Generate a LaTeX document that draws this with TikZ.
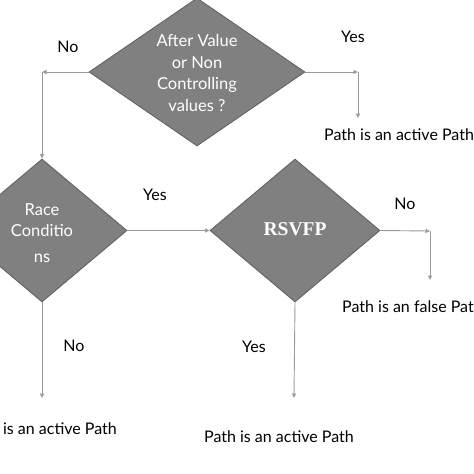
\documentclass[tikz,border=0pt]{standalone}
\usepackage{fontspec}
\setmainfont{Lato}
\newfontfamily\serifb{Liberation Serif}
\usetikzlibrary{shapes.geometric,arrows.meta}
\definecolor{dfill}{HTML}{808080}
\definecolor{dline}{HTML}{5E5E5E}
\definecolor{aline}{HTML}{9A9A9A}
\begin{document}
\begin{tikzpicture}[x=1pt,y=-1pt,
  dec/.style={diamond,fill=dfill,draw=dline,line width=0.8pt,inner sep=0pt},
  intext/.style={text=white,align=center,font=\fontsize{16.5}{21.7}\selectfont},
  lbl/.style={font=\fontsize{16}{19}\selectfont,inner sep=0pt},
  arr/.style={draw=aline,line width=0.9pt,-{Triangle[length=4.5pt,width=4pt]}}]
\useasboundingbox (0,0) rectangle (474,474);
% diamonds
\node[dec,minimum width=216pt,minimum height=148pt] (top) at (197,72) {};
\node[intext] (toptxt) at (197,73) {After Value\\or Non\\Controlling\\values ?};
\node[dec,minimum width=170pt,minimum height=143pt] (race) at (42,230.5) {};
\node[intext] (racetxt) at (42,233) {Race\\Conditio\\[4pt]ns};
\node[dec,minimum width=170pt,minimum height=143pt] (rs) at (295,230.5) {};
\node[text=white,font=\serifb\bfseries\fontsize{19.5}{22}\selectfont] (rstxt) at (295,229) {RSVFP};
% end texts
\node[lbl,anchor=base west] (t1) at (324,140) {Path is an active Path};
\node[lbl,anchor=base west] (t2) at (342,312) {Path is an false Path};
\node[lbl,anchor=base] (t3) at (42,434) {Path is an active Path};
\node[lbl,anchor=base] (t4) at (279,442) {Path is an active Path};
% labels
\node[lbl] (lNo1) at (68,47) {No};
\node[lbl] (lYes1) at (353,37) {Yes};
\node[lbl] (lYes2) at (155,195) {Yes};
\node[lbl] (lNo2) at (405,204) {No};
\node[lbl] (lNo3) at (74,346) {No};
\node[lbl] (lYes3) at (254,347) {Yes};
% coordinates
\coordinate (cL) at (42,72);
\coordinate (cR) at (358,72);
\coordinate (cRe) at (358,118);
\coordinate (cN) at (430,231);
\coordinate (cNe) at (430,280);
\coordinate (cRb) at (42,398);
\coordinate (cSb) at (294,398);
\coordinate (cTop) at (197,-5);
% connectors
\draw[draw=aline,line width=0.9pt] (cTop) -- (top.north);
\draw[arr] (top.west) -- (cL);
\draw[arr] (cL) -- (race.north);
\draw[arr] (top.east) -- (cR);
\draw[arr] (cR) -- (cRe);
\draw[arr] (race.east) -- (rs.west);
\draw[arr] (rs.east) -- (cN);
\draw[arr] (cN) -- (cNe);
\draw[arr] (race.south) -- (cRb);
\draw[arr] (rs.south) -- (cSb);
\end{tikzpicture}
\end{document}
